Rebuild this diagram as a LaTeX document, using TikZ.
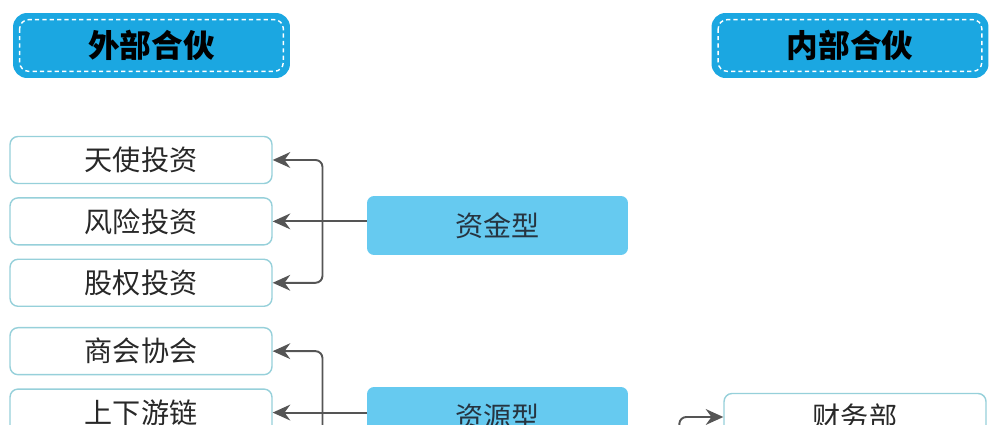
\documentclass[tikz,border=0pt]{standalone}
\usepackage{fontspec}
\setmainfont{Noto Sans CJK SC}
\usepackage{tikz}
\usetikzlibrary{arrows.meta, positioning, calc}

\begin{document}
\begin{tikzpicture}[x=0.02cm, y=-0.02cm,
  hdbox/.style={rectangle, rounded corners=0.28cm, fill=hdcolor, minimum width=5.54cm, minimum height=1.3cm, inner sep=1pt, font=\fontsize{18}{20}\selectfont\bfseries, text=black},
  hddash/.style={white, line width=0.8pt, dash pattern=on 2.4pt off 1.8pt, rounded corners=0.18cm},
  itembox/.style={rectangle, rounded corners=0.16cm, draw=itemcolor, line width=0.8pt, fill=white, minimum width=5.24cm, minimum height=0.94cm, inner sep=1pt, font=\fontsize{16}{18}\selectfont, text=textcolor},
  typebox/.style={rectangle, rounded corners=0.14cm, fill=typecolor, minimum width=5.22cm, minimum height=1.18cm, inner sep=1pt, font=\fontsize{16}{18}\selectfont, text=typetext},
  arr/.style={-{Stealth[length=10pt, width=9pt]}, draw=arrcolor, line width=1.1pt, rounded corners=0.14cm}]
  % Define colors
  \definecolor{hdcolor}{RGB}{27,167,225}     % header blue
  \definecolor{typecolor}{RGB}{102,202,240}  % light blue
  \definecolor{itemcolor}{RGB}{150,208,218}  % teal border
  \definecolor{textcolor}{RGB}{40,40,40}
  \definecolor{typetext}{RGB}{38,52,64}
  \definecolor{arrcolor}{RGB}{85,85,85}

  \useasboundingbox (0,0) rectangle (1000,425);
  \clip (0,0) rectangle (1000,425);

  % Headers
  \node[hdbox] (wb) at (151.5,45.5) {外部合伙};
  \node[hdbox] (nb) at (850,45.5) {内部合伙};
  \foreach \h in {wb,nb}
    \draw[hddash] ($(\h.north west)+(7,7)$) rectangle ($(\h.south east)+(-7,-7)$);

  % Outside partners
  \node[itembox] (ts) at (141,160) {天使投资};
  \node[itembox, below=0.26cm of ts] (fx) {风险投资};
  \node[itembox, below=0.26cm of fx] (gq) {股权投资};
  \node[itembox, below=0.4cm of gq] (sh) {商会协会};
  \node[itembox, below=0.26cm of sh] (sx) {上下游链};

  % Partner types
  \node[typebox] (zj) at (497.5,225.5) {资金型};
  \node[typebox] (zy) at (497.5,416.5) {资源型};

  % Inside partners
  \node[itembox] (cw) at (855,417) {财务部};

  % Junctions
  \coordinate (jz) at ($(fx.east)!0.53!(zj.west |- fx.east)$);
  \coordinate (jy) at ($(sx.east)!0.53!(zy.west |- sx.east)$);
  \coordinate (jyd) at ($(jy)+(0,40)$);
  \coordinate (cwd) at ($(cw.west)+(-44,30)$);

  % Arrows
  \draw[arr] (fx.east -| zj.west) -- (fx.east);
  \draw[arr] (jz) |- (ts.east);
  \draw[arr] (jz) |- (gq.east);
  \draw[arr] (sx.east -| zy.west) -- (sx.east);
  \draw[arr] (jyd) |- (sh.east);
  \draw[arr] (cwd) |- (cw.west);
\end{tikzpicture}
\end{document}
